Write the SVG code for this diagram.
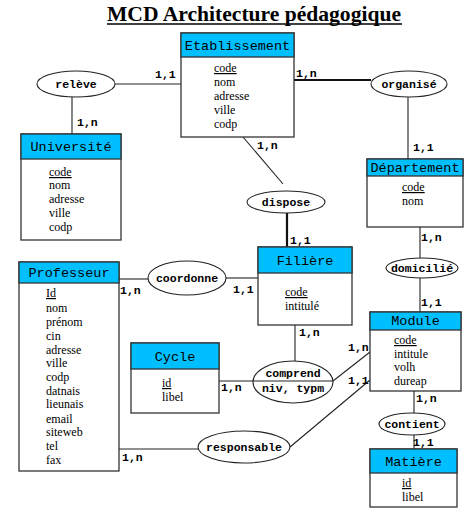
<svg xmlns="http://www.w3.org/2000/svg" width="476" height="512" viewBox="0 0 476 512">
<style>
.box{fill:#fff;stroke:#333;stroke-width:1.3}
.hd{fill:#00bfff;stroke:#333;stroke-width:1.3}
.ht{font-family:"Liberation Mono",monospace;font-size:13.5px;fill:#000;text-anchor:middle}
.at{font-family:"Liberation Serif",serif;font-size:12px;fill:#000}
.u{text-decoration:underline}
.el{fill:#fff;stroke:#222;stroke-width:1.1}
.rt{font-family:"Liberation Mono",monospace;font-weight:bold;font-size:11.5px;fill:#000;text-anchor:middle}
.cd{font-family:"Liberation Mono",monospace;font-weight:bold;font-size:11.5px;fill:#000}
.ln{stroke:#222;stroke-width:1.1;fill:none}
.tk{stroke:#111;stroke-width:2.2;fill:none}
</style>
<rect width="476" height="512" fill="#fff"/>
<text x="254" y="21" font-family="Liberation Serif,serif" font-weight="bold" font-size="21" text-anchor="middle" textLength="294" lengthAdjust="spacingAndGlyphs">MCD Architecture pédagogique</text>
<line x1="107" y1="24" x2="402" y2="24" stroke="#000" stroke-width="1.3"/>

<g id="connectors">
<line class="ln" x1="115" y1="84" x2="181" y2="84"/>
<line class="ln" x1="72" y1="97" x2="72" y2="134"/>
<line class="tk" x1="294" y1="80" x2="371" y2="80"/>
<line class="ln" x1="408" y1="97" x2="408" y2="159"/>
<line class="ln" x1="243" y1="137" x2="283" y2="184"/>
<line class="tk" x1="287" y1="213" x2="287" y2="247"/>
<line class="ln" x1="420" y1="227" x2="420" y2="258"/>
<line class="ln" x1="420" y1="278" x2="420" y2="312"/>
<line class="ln" x1="119" y1="279" x2="148" y2="279"/>
<line class="ln" x1="226" y1="278" x2="258" y2="278"/>
<line class="ln" x1="219" y1="381" x2="253" y2="381"/>
<line class="ln" x1="295" y1="325" x2="295" y2="361"/>
<line class="ln" x1="333" y1="381" x2="370" y2="352"/>
<line class="ln" x1="117" y1="449" x2="198" y2="449"/>
<line class="ln" x1="290" y1="447" x2="370" y2="380"/>
<line class="ln" x1="414" y1="391" x2="414" y2="413"/>
<line class="ln" x1="414" y1="435" x2="414" y2="449"/>
</g>

<g id="cards">
<text class="cd" x="155" y="78">1,1</text>
<text class="cd" x="77" y="126">1,n</text>
<text class="cd" x="296" y="77">1,n</text>
<text class="cd" x="413" y="151">1,1</text>
<text class="cd" x="257" y="149">1,n</text>
<text class="cd" x="290" y="244">1,1</text>
<text class="cd" x="421" y="241">1,n</text>
<text class="cd" x="421" y="306">1,1</text>
<text class="cd" x="120" y="294">1,n</text>
<text class="cd" x="233" y="293">1,1</text>
<text class="cd" x="221" y="391">1,n</text>
<text class="cd" x="299" y="336">1,n</text>
<text class="cd" x="348" y="351">1,n</text>
<text class="cd" x="348" y="384">1,1</text>
<text class="cd" x="122" y="461">1,n</text>
<text class="cd" x="416" y="402">1,n</text>
<text class="cd" x="413" y="446">1,1</text>
</g>

<g id="etablissement">
<rect class="box" x="181" y="33" width="113" height="104"/>
<rect class="hd" x="181" y="33" width="113" height="24"/>
<text class="ht" x="237.5" y="50">Etablissement</text>
<text class="at u" x="214" y="72">code</text>
<text class="at" x="214" y="86">nom</text>
<text class="at" x="214" y="100">adresse</text>
<text class="at" x="214" y="114">ville</text>
<text class="at" x="214" y="128">codp</text>
</g>

<g id="universite">
<rect class="box" x="21" y="134" width="100" height="106"/>
<rect class="hd" x="21" y="134" width="100" height="25"/>
<text class="ht" x="71" y="151">Université</text>
<text class="at u" x="49" y="176">code</text>
<text class="at" x="49" y="189">nom</text>
<text class="at" x="49" y="203">adresse</text>
<text class="at" x="49" y="217">ville</text>
<text class="at" x="49" y="231">codp</text>
</g>

<g id="departement">
<rect class="box" x="367" y="159" width="96" height="68"/>
<rect class="hd" x="367" y="159" width="96" height="17"/>
<text class="ht" x="415" y="172" font-size="13">Département</text>
<text class="at u" x="402" y="191">code</text>
<text class="at" x="402" y="205">nom</text>
</g>

<g id="filiere">
<rect class="box" x="258" y="247" width="94" height="78"/>
<rect class="hd" x="258" y="247" width="94" height="26"/>
<text class="ht" x="305" y="265">Filière</text>
<text class="at u" x="285" y="296">code</text>
<text class="at" x="285" y="310">intitulé</text>
</g>

<g id="module">
<rect class="box" x="370" y="312" width="91" height="79"/>
<rect class="hd" x="370" y="312" width="91" height="18"/>
<text class="ht" x="415.5" y="325">Module</text>
<text class="at u" x="394" y="344">code</text>
<text class="at" x="394" y="358">intitule</text>
<text class="at" x="394" y="371">volh</text>
<text class="at" x="394" y="385">dureap</text>
</g>

<g id="professeur">
<rect class="box" x="19" y="262" width="100" height="209"/>
<rect class="hd" x="19" y="262" width="100" height="21"/>
<text class="ht" x="69" y="277">Professeur</text>
<text class="at u" x="46" y="297">Id</text>
<text class="at" x="46" y="312">nom</text>
<text class="at" x="46" y="326">prénom</text>
<text class="at" x="46" y="340">cin</text>
<text class="at" x="46" y="354">adresse</text>
<text class="at" x="46" y="367">ville</text>
<text class="at" x="46" y="381">codp</text>
<text class="at" x="46" y="395">datnais</text>
<text class="at" x="46" y="408">lieunais</text>
<text class="at" x="46" y="423">email</text>
<text class="at" x="46" y="436">siteweb</text>
<text class="at" x="46" y="450">tel</text>
<text class="at" x="46" y="464">fax</text>
</g>

<g id="cycle">
<rect class="box" x="131" y="343" width="88" height="70"/>
<rect class="hd" x="131" y="343" width="88" height="26"/>
<text class="ht" x="175" y="361">Cycle</text>
<text class="at u" x="162" y="387">id</text>
<text class="at" x="162" y="401">libel</text>
</g>

<g id="matiere">
<rect class="box" x="370" y="449" width="87" height="58"/>
<rect class="hd" x="370" y="449" width="87" height="24"/>
<text class="ht" x="413.5" y="466">Matière</text>
<text class="at u" x="402" y="487">id</text>
<text class="at" x="402" y="501">libel</text>
</g>

<g id="releve">
<ellipse class="el" cx="76" cy="84" rx="39" ry="13"/>
<text class="rt" x="76" y="88">relève</text>
</g>
<g id="organise">
<ellipse class="el" cx="409" cy="84" rx="38" ry="13"/>
<text class="rt" x="409" y="88">organisé</text>
</g>
<g id="dispose">
<ellipse class="el" cx="286" cy="202" rx="39" ry="11"/>
<text class="rt" x="286" y="206">dispose</text>
</g>
<g id="domicilie">
<ellipse class="el" cx="422" cy="268" rx="36" ry="10"/>
<text class="rt" x="422" y="272">domicilié</text>
</g>
<g id="coordonne">
<ellipse class="el" cx="187" cy="278" rx="39" ry="17"/>
<text class="rt" x="187" y="282">coordonne</text>
</g>
<g id="comprend">
<ellipse class="el" cx="293" cy="382" rx="40" ry="21"/>
<line class="ln" x1="253" y1="381" x2="333" y2="381"/>
<text class="rt" x="293" y="377">comprend</text>
<text class="rt" x="293" y="392">niv, typm</text>
</g>
<g id="responsable">
<ellipse class="el" cx="244" cy="447" rx="46" ry="16"/>
<text class="rt" x="244" y="451">responsable</text>
</g>
<g id="contient">
<ellipse class="el" cx="412" cy="424" rx="33" ry="11"/>
<text class="rt" x="412" y="428">contient</text>
</g>
</svg>
